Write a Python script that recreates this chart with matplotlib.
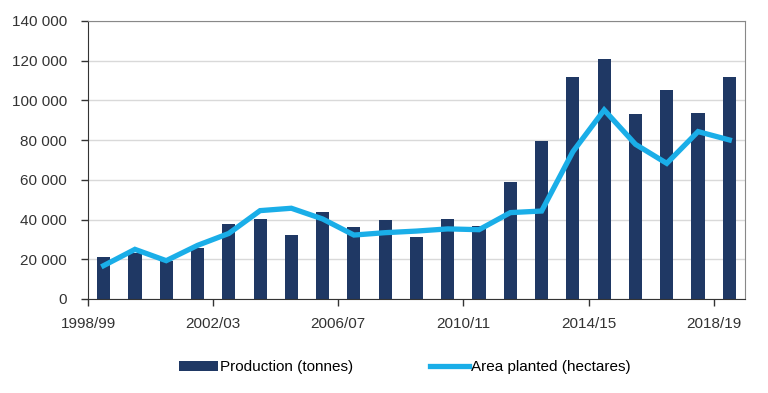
import matplotlib
matplotlib.use('agg')
import matplotlib.pyplot as plt
from matplotlib.ticker import FuncFormatter

plt.rcParams['font.family'] = ['Liberation Sans', 'DejaVu Sans']

seasons = ["1998/99", "1999/00", "2000/01", "2001/02", "2002/03", "2003/04", "2004/05",
           "2005/06", "2006/07", "2007/08", "2008/09", "2009/10", "2010/11", "2011/12",
           "2012/13", "2013/14", "2014/15", "2015/16", "2016/17", "2017/18", "2018/19"]

# Production (tonnes)
production = [21000, 23000, 19000, 25500, 38000, 40500, 32000, 44000, 36300, 40000, 31000,
              40300, 36800, 58800, 79600, 112000, 121000, 93000, 105400, 93500, 112000]

# Area planted (hectares)
area = [16800, 25000, 19300, 27000, 33000, 44500, 45700, 40300, 32200, 33400, 34200,
        35300, 34900, 43500, 44300, 74200, 95200, 77900, 68300, 84300, 80100]

x = list(range(len(seasons)))

fig = plt.figure(figsize=(7.68, 3.93), dpi=100)
ax = fig.add_axes([0.1146, 0.2392, 0.8554, 0.7074])

bars = ax.bar(x, production, width=0.42, color='#1f3864', label='Production (tonnes)', zorder=2)
line, = ax.plot(x, area, color='#1aaee8', linewidth=3.8, label='Area planted (hectares)',
                solid_joinstyle='miter', zorder=3)

ax.set_xlim(-0.5, len(seasons) - 0.5)
ax.set_ylim(0, 140000)
ax.set_yticks(range(0, 140001, 20000))
ax.yaxis.set_major_formatter(FuncFormatter(lambda v, p: '{:,}'.format(int(v)).replace(',', ' ')))

# labels sit on the category boundaries every 4 seasons
ticks = [i - 0.5 for i in range(0, len(seasons), 4)]
ax.set_xticks(ticks)
ax.set_xticklabels([seasons[i] for i in range(0, len(seasons), 4)])

ax.grid(axis='y', color='#d9d9d9', linewidth=1, zorder=0)
ax.tick_params(axis='both', labelsize=11, colors='#333333', length=5, width=1)
ax.tick_params(axis='y', pad=10)
ax.tick_params(axis='x', pad=8)
for s in ['left', 'bottom']:
    ax.spines[s].set_color('#333333')
for s in ['top', 'right']:
    ax.spines[s].set_color('#888888')

fig.legend([bars, line], ['Production (tonnes)', 'Area planted (hectares)'],
           loc='center', bbox_to_anchor=(0.527, 0.065), ncol=2, frameon=False,
           fontsize=11, handlelength=2.55, handletextpad=0.15, columnspacing=5.0,
           handleheight=0.6)

fig.savefig('out.png', dpi=100)
